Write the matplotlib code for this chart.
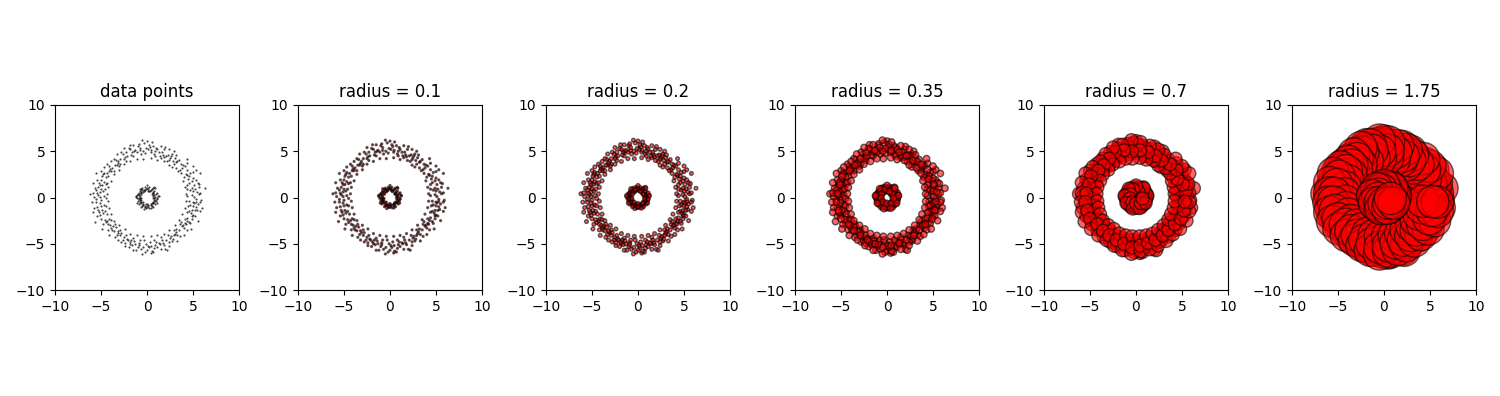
import numpy as np
import matplotlib
matplotlib.use('Agg')
import matplotlib.pyplot as plt
from matplotlib.patches import Circle
from matplotlib.collections import PatchCollection

# points (outer ring ~ r=5, inner ring ~ r=0.8)
outer_pts = [
    [4.9, 0.3], [5.3, -0.2], [4.6, -0.4], [5.6, 0.4], [5.1, 0.1], [4.4, 0.2], [5.9, -0.3], [5.0, -0.5],
    [5.2, 0.9], [4.7, 0.8], [5.6, 1.1], [4.9, 1.0], [6.3, 1.0], [5.0, 0.7], [4.4, 0.9],
    [4.6, 1.6], [5.3, 1.9], [4.9, 1.8], [5.5, 1.6], [4.4, 1.4], [5.0, 2.1],
    [4.3, 2.4], [4.7, 2.7], [5.0, 2.8], [4.2, 2.5], [4.6, 2.3], [5.3, 3.0], [4.0, 2.2],
    [3.8, 3.2], [4.1, 3.4], [3.6, 3.0], [4.4, 3.7], [3.9, 3.5], [3.4, 2.9],
    [3.2, 3.8], [2.9, 3.6], [3.5, 4.1], [2.7, 3.3], [3.0, 4.3], [3.3, 3.9],
    [2.5, 4.3], [2.4, 4.1], [2.7, 4.7], [2.2, 3.9], [2.6, 4.5], [2.9, 5.0], [2.3, 4.6],
    [1.7, 4.6], [1.5, 4.3], [1.9, 5.2], [1.6, 4.9], [1.8, 4.4], [2.0, 5.5], [1.4, 4.5],
    [0.9, 5.0], [0.8, 4.7], [1.0, 5.4], [0.7, 5.6], [0.9, 4.5], [1.1, 5.2],
    [0.1, 5.2], [-0.2, 4.8], [0.3, 5.5], [0.0, 6.1], [-0.3, 5.9], [0.4, 4.9], [0.2, 5.7], [-0.1, 5.3],
    [-0.8, 5.1], [-1.0, 5.6], [-0.7, 4.7], [-0.9, 5.8], [-1.1, 4.9], [-0.8, 5.4],
    [-1.6, 4.9], [-1.8, 5.2], [-1.5, 4.5], [-1.9, 5.7], [-1.7, 4.6], [-2.0, 5.3], [-1.4, 5.0],
    [-2.4, 4.4], [-2.6, 4.7], [-2.3, 4.0], [-2.8, 4.9], [-2.5, 4.2], [-2.2, 4.5],
    [-3.1, 3.9], [-3.4, 4.1], [-2.9, 3.6], [-3.3, 3.5], [-3.6, 4.2], [-3.0, 3.4], [-3.2, 3.7],
    [-3.8, 3.2], [-4.1, 3.4], [-3.6, 2.9], [-4.3, 3.6], [-3.9, 2.9], [-4.0, 3.1],
    [-4.4, 2.6], [-4.7, 2.7], [-4.2, 2.3], [-5.0, 2.9], [-4.5, 2.2], [-4.8, 2.5],
    [-4.7, 1.7], [-5.0, 1.9], [-4.5, 1.5], [-5.4, 1.9], [-4.9, 1.4], [-5.2, 1.6], [-4.3, 1.6],
    [-5.0, 0.9], [-5.3, 1.1], [-4.8, 0.7], [-5.7, 1.0], [-5.1, 0.6], [-4.6, 0.9], [-5.5, 0.8],
    [-5.1, 0.1], [-5.5, -0.2], [-4.7, 0.2], [-6.2, 0.4], [-5.0, -0.3], [-5.8, 0.1], [-4.5, -0.1], [-5.3, 0.3],
    [-5.0, -0.9], [-5.4, -1.0], [-4.7, -0.8], [-5.8, -1.1], [-5.1, -0.6], [-4.5, -0.9],
    [-4.8, -1.7], [-5.1, -1.9], [-4.6, -1.5], [-5.4, -2.0], [-4.4, -1.8], [-4.9, -1.4], [-5.2, -1.6],
    [-4.3, -2.5], [-4.5, -2.7], [-4.1, -2.3], [-4.8, -2.9], [-4.6, -2.4], [-3.9, -2.4],
    [-3.7, -3.1], [-3.9, -3.3], [-3.5, -2.9], [-4.2, -3.5], [-3.8, -3.5], [-3.4, -3.2], [-4.0, -3.0],
    [-3.1, -3.8], [-3.3, -4.0], [-2.9, -3.5], [-3.5, -4.3], [-2.8, -3.8], [-3.2, -3.6],
    [-2.5, -4.3], [-2.6, -4.6], [-2.3, -4.1], [-2.8, -4.8], [-2.2, -4.5], [-2.4, -4.9],
    [-1.7, -4.6], [-1.8, -5.0], [-1.5, -4.4], [-2.0, -5.3], [-1.6, -5.1], [-1.4, -4.7], [-1.9, -4.8],
    [-0.9, -4.9], [-1.0, -5.3], [-0.8, -4.6], [-1.2, -5.7], [-0.7, -5.6], [-0.9, -5.1],
    [-0.1, -5.0], [0.2, -5.4], [-0.3, -4.6], [0.4, -6.0], [0.0, -5.7], [-0.2, -5.9], [0.3, -4.8], [0.1, -5.2],
    [0.9, -5.1], [0.8, -5.5], [1.0, -4.8], [0.7, -5.9], [1.1, -5.3], [0.8, -4.6],
    [1.6, -4.6], [1.8, -5.1], [1.5, -4.3], [2.0, -5.6], [1.7, -4.9], [1.4, -5.0],
    [2.5, -4.4], [2.7, -4.7], [2.3, -4.1], [2.2, -5.7], [2.6, -4.2], [2.8, -4.5], [2.4, -4.8],
    [3.1, -3.7], [3.3, -4.0], [2.9, -3.5], [3.6, -4.2], [3.2, -3.4], [3.0, -3.9],
    [3.8, -3.1], [4.0, -3.3], [3.6, -2.9], [4.3, -3.5], [3.7, -2.6], [4.1, -2.8], [3.9, -3.0],
    [4.3, -2.5], [4.6, -2.6], [4.1, -2.3], [4.9, -2.0], [4.4, -2.2], [4.7, -2.8],
    [4.8, -1.7], [5.0, -1.9], [4.6, -1.5], [5.4, -1.3], [4.9, -1.4], [4.4, -1.6], [5.2, -2.0],
    [5.0, -0.9], [5.3, -1.0], [4.7, -0.8], [6.0, -1.1], [5.1, -0.6], [4.5, -0.9], [5.5, -0.7],
    # scattered points between the denser clumps
    [4.2, 0.4], [5.8, 0.5], [5.4, 0.6], [4.1, 1.1], [5.7, 1.5], [5.1, 1.4],
    [3.9, 1.8], [5.8, 2.6], [4.5, 2.0], [3.7, 2.6], [5.0, 3.4], [4.4, 3.0],
    [3.2, 3.2], [4.3, 4.2], [3.7, 3.6], [2.4, 3.5], [3.1, 4.6], [2.8, 4.0],
    [1.9, 4.0], [2.4, 5.2], [2.1, 4.5], [1.1, 4.1], [1.5, 5.6], [1.3, 4.9],
    [0.4, 4.3], [0.5, 6.0], [0.45, 5.1], [-0.4, 4.2], [-0.5, 6.2], [-0.45, 5.0],
    [-1.1, 4.2], [-1.5, 5.7], [-1.3, 5.1], [-1.8, 3.9], [-2.3, 4.9], [-2.5, 5.4],
    [-2.5, 3.6], [-3.3, 4.7], [-2.9, 4.2], [-3.0, 3.0], [-3.9, 3.9], [-3.5, 3.5],
    [-3.6, 2.5], [-4.7, 3.3], [-4.1, 2.9], [-3.9, 1.8], [-5.5, 2.6], [-4.9, 2.3],
    [-4.2, 1.1], [-5.9, 1.6], [-5.1, 1.4], [-4.3, 0.4], [-5.9, 0.5], [-5.4, 0.45],
    [-4.2, -0.4], [-6.0, -0.5], [-5.5, -0.5], [-4.1, -1.1], [-5.9, -1.6], [-5.3, -1.4],
    [-3.9, -1.8], [-5.6, -2.6], [-5.0, -2.3], [-3.6, -2.5], [-4.9, -3.4], [-4.2, -2.9],
    [-3.0, -3.0], [-4.1, -4.1], [-3.6, -3.6], [-2.4, -3.4], [-3.2, -4.6], [-2.9, -4.1],
    [-1.8, -3.9], [-2.4, -5.2], [-2.1, -4.6], [-1.1, -4.1], [-1.5, -5.7], [-1.3, -5.0],
    [-0.4, -4.2], [-0.5, -6.1], [-0.45, -5.4], [0.4, -4.2], [0.5, -5.8], [0.45, -5.2],
    [1.1, -4.1], [1.5, -5.6], [1.3, -4.9], [1.8, -3.9], [2.4, -5.2], [2.1, -4.6],
    [2.4, -3.5], [3.3, -4.7], [2.9, -4.1], [3.0, -3.0], [4.0, -4.0], [3.5, -3.5],
    [3.5, -2.4], [4.8, -3.4], [4.2, -2.9], [3.8, -1.8], [5.5, -2.5], [4.9, -2.3],
    [4.1, -1.1], [5.8, -1.5], [5.2, -1.4], [4.2, -0.4], [5.8, -0.5], [5.3, -0.45],
]

inner_pts = [
    [0.9, 0.1], [1.1, -0.1], [0.8, 0.0], [1.2, 0.2],
    [0.8, 0.3], [1.0, 0.4], [0.7, 0.2], [1.1, 0.5],
    [0.6, 0.5], [0.7, 0.6], [0.5, 0.4], [0.8, 0.7],
    [0.4, 0.8], [0.5, 0.9], [0.3, 0.7], [0.6, 1.0],
    [0.1, 0.9], [0.2, 1.1], [0.15, 0.75], [0.0, 1.0],
    [-0.2, 0.8], [-0.2, 1.1], [-0.1, 0.95], [-0.3, 0.7],
    [-0.5, 0.8], [-0.6, 0.9], [-0.4, 0.6], [-0.5, 1.0],
    [-0.7, 0.6], [-0.8, 0.7], [-0.6, 0.5], [-0.9, 0.5],
    [-0.9, 0.3], [-1.0, 0.4], [-0.8, 0.2], [-1.1, 0.3],
    [-0.9, 0.0], [-1.1, -0.1], [-0.8, -0.05], [-1.2, 0.1],
    [-0.8, -0.3], [-1.0, -0.4], [-0.9, -0.2], [-0.7, -0.3],
    [-0.7, -0.6], [-0.8, -0.5], [-0.6, -0.5], [-0.9, -0.7],
    [-0.4, -0.8], [-0.5, -0.9], [-0.45, -0.7], [-0.6, -1.0],
    [-0.2, -0.9], [-0.1, -1.1], [-0.15, -0.75], [-0.2, -1.0],
    [0.1, -0.9], [0.2, -1.1], [0.15, -0.8], [0.0, -1.0],
    [0.4, -0.8], [0.5, -0.9], [0.45, -0.7], [0.6, -1.0],
    [0.7, -0.6], [0.8, -0.5], [0.6, -0.5], [0.9, -0.7],
    [0.9, -0.3], [1.0, -0.4], [0.8, -0.3], [1.1, -0.2],
    [0.8, 1.1],
    [1.25, 0.2], [0.6, 0.35], [0.85, 1.0], [0.25, 0.65], [0.0, 1.3], [-0.3, 0.85],
    [-0.8, 0.95], [-0.6, 0.35], [-1.25, 0.2], [-0.65, -0.1], [-1.05, -0.6], [-0.4, -0.5],
    [-0.35, -1.2], [0.0, -0.65], [0.4, -1.15], [0.5, -0.6], [1.05, -0.6], [0.7, -0.1],
]

radii = [0.1, 0.2, 0.35, 0.7, 1.75]
titles = ['data points'] + ['radius = %s' % r for r in radii]
ticks = [-10, -5, 0, 5, 10]

X = np.array(outer_pts + inner_pts)

fig = plt.figure(figsize=(15, 3.96), dpi=100)
lefts = [55, 298, 546, 795, 1044, 1292]

for i, left in enumerate(lefts):
    ax = fig.add_axes([left / 1500, 106 / 396, 184 / 1500, 185 / 396])
    if i == 0:
        ax.scatter(X[:, 0], X[:, 1], s=1, c='#5a3030', edgecolors='k', alpha=0.6, linewidths=0.6)
    else:
        r = radii[i - 1]
        circles = [Circle((x, y), r) for x, y in X]
        pc = PatchCollection(circles, facecolor='red', edgecolor='k', alpha=0.6, linewidths=1.0)
        ax.add_collection(pc)
    ax.set_xlim(-10, 10)
    ax.set_ylim(-10, 10)
    ax.set_xticks(ticks)
    ax.set_yticks(ticks)
    ax.set_title(titles[i])

fig.savefig('out.png', dpi=100)
